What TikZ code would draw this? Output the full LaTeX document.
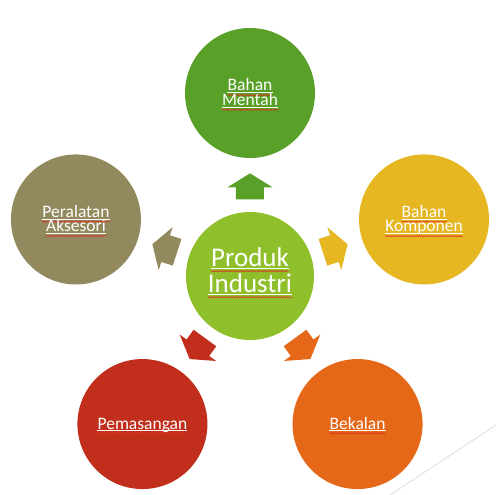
\documentclass[tikz,border=0pt]{standalone}
\usepackage{fontspec}
\setmainfont{Carlito}
\usetikzlibrary{calc,decorations.pathmorphing}

\definecolor{mentahgreen}{HTML}{58A028}
\definecolor{produkgreen}{HTML}{8FC02B}
\definecolor{komponenyellow}{HTML}{E6B623}
\definecolor{alatkhaki}{HTML}{928A5E}
\definecolor{pasangred}{HTML}{C22E1C}
\definecolor{bekalanorange}{HTML}{E56718}
\definecolor{spellred}{HTML}{E03020}
\definecolor{edgegray}{HTML}{DDDDDD}

\begin{document}
\begin{tikzpicture}[x=1pt,y=1pt]
		\tikzset{
			bulat/.style={circle, minimum size=130pt, inner sep=0pt},
			tengah/.style={bulat, minimum size=128pt},
			salah/.style={inner sep=0pt, anchor=base, text=white, font=\fontsize{17.5}{17.5}\selectfont,
				append after command={
					($(\tikzlastnode.base west)+(0,-1.8)$) edge[draw=white, line width=0.7pt] ($(\tikzlastnode.base east)+(0,-1.8)$)
					($(\tikzlastnode.base west)+(0,-4.2)$) edge[draw=spellred, line width=0.5pt, decorate,
						decoration={snake, amplitude=0.7pt, segment length=2.4pt}] ($(\tikzlastnode.base east)+(0,-4.2)$)}},
			besar/.style={salah, font=\fontsize{27}{27}\selectfont},
			bigarrow/.pic={\fill (-14,-13) -- (14,-13) -- (14,-1) -- (22.5,-1) -- (0,13) -- (-22.5,-1) -- (-14,-1) -- cycle;},
		}
		\useasboundingbox (-250,-219) rectangle (246,276);
		% circles
		\node[tengah, fill=produkgreen] (produk) at (0,0) {};
		\node[bulat, fill=mentahgreen] (mentah) at (90:183) {};
		\node[bulat, fill=komponenyellow] (komponen) at (18:183) {};
		\node[bulat, fill=alatkhaki] (alat) at (162:183) {};
		\node[bulat, fill=pasangred] (pasang) at (234:183) {};
		\node[bulat, fill=bekalanorange] (bekalan) at (306:183) {};
		% labels
		\node[besar] (produk1) at ($(produk)+(0,9)$) {Produk};
		\node[besar] (produk2) at ($(produk)+(0,-17)$) {Industri};
		\node[salah] (mentah1) at ($(mentah)+(0,2)$) {Bahan};
		\node[salah] (mentah2) at ($(mentah)+(0,-12.5)$) {Mentah};
		\node[salah] (komponen1) at ($(komponen)+(0,2)$) {Bahan};
		\node[salah] (komponen2) at ($(komponen)+(0,-12.5)$) {Komponen};
		\node[salah] (alat1) at ($(alat)+(0,2)$) {Peralatan};
		\node[salah] (alat2) at ($(alat)+(0,-12.5)$) {Aksesori};
		\node[salah] (pasang1) at ($(pasang)+(0,-5)$) {Pemasangan};
		\node[salah] (bekalan1) at ($(bekalan)+(0,-5)$) {Bekalan};
		% arrows
		\pic[color=mentahgreen] at ($(produk)!0.49!(mentah)$) {bigarrow};
		\pic[color=komponenyellow, rotate=-72] at ($(produk)!0.49!(komponen)$) {bigarrow};
		\pic[color=alatkhaki, rotate=72] at ($(produk)!0.49!(alat)$) {bigarrow};
		\pic[color=pasangred, rotate=144] at ($(produk)!0.49!(pasang)$) {bigarrow};
		\pic[color=bekalanorange, rotate=-144] at ($(produk)!0.49!(bekalan)$) {bigarrow};
		\draw[edgegray, line width=0.8pt] (140,-219) -- (246,-149);
	\end{tikzpicture}
\end{document}
